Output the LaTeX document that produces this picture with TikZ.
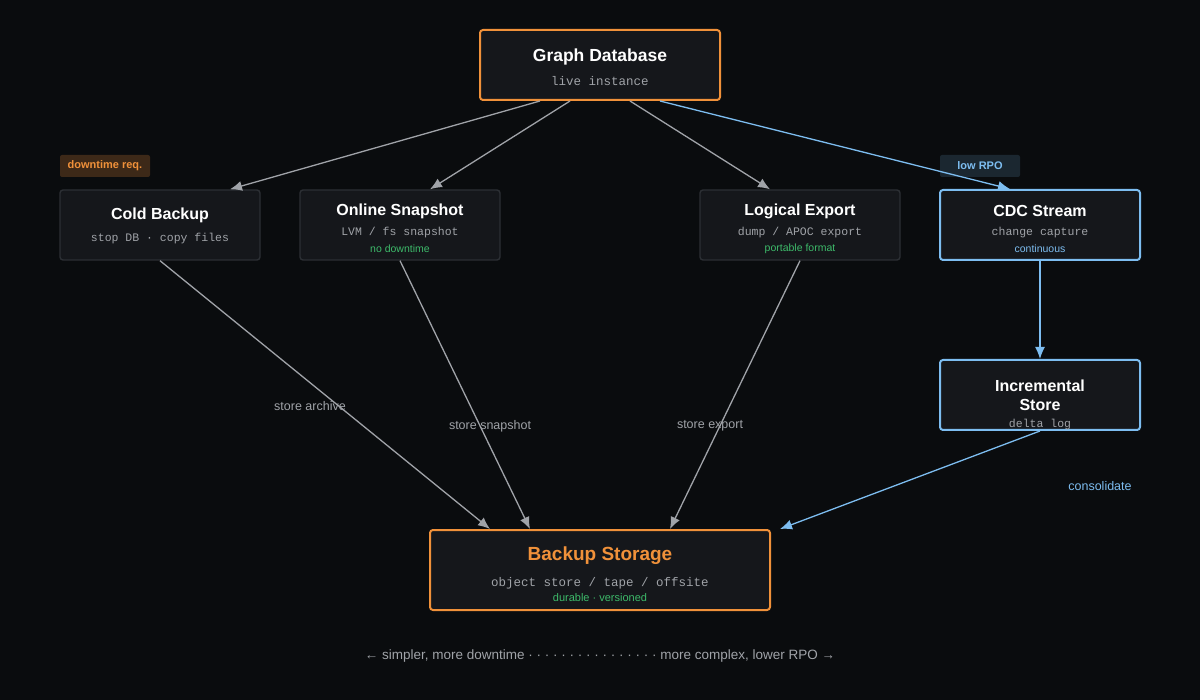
\documentclass[tikz,border=0pt]{standalone}
\usepackage{fontspec}
\setmainfont{Liberation Sans}
\setmonofont{Liberation Mono}
\usetikzlibrary{arrows.meta}
\definecolor{bg}{HTML}{0A0C0E}
\definecolor{boxfill}{HTML}{15171B}
\definecolor{boxline}{HTML}{2C2F34}
\definecolor{orng}{HTML}{F0913A}
\definecolor{lblue}{HTML}{7DBDF0}
\definecolor{grn}{HTML}{3DBA6A}
\definecolor{gry}{HTML}{A0A3A8}
\tikzset{
  box/.style={draw=boxline, line width=1.4pt, fill=boxfill, rounded corners=3pt,
    minimum width=200pt, minimum height=70pt, inner sep=0pt},
  hot/.style={box, line width=2pt},
  ttl/.style={text=white, font=\fontsize{16}{19}\selectfont\bfseries},
  sub/.style={text=gry, font=\fontsize{11.5}{13}\selectfont\ttfamily},
  note/.style={text=grn, font=\fontsize{10.5}{12}\selectfont},
  tag/.style={rounded corners=2pt, minimum height=22pt, inner sep=0pt,
    font=\fontsize{11}{13}\selectfont\bfseries},
  link/.style={draw=gry, line width=1.3pt, -{Latex[length=12pt,width=10pt]}},
  blink/.style={link, draw=lblue},
  lbl/.style={text=gry, font=\fontsize{12.5}{14}\selectfont}
}
\begin{document}
\begin{tikzpicture}[x=1pt,y=-1pt]
  \fill[bg] (0,0) rectangle (1200,700);
  \useasboundingbox (0,0) rectangle (1200,700);
  % nodes
  \node[hot, draw=orng, minimum width=240pt] (gdb) at (600,65) {};
  \node[ttl, font=\fontsize{17.5}{20}\selectfont\bfseries] at (600,57) {Graph Database};
  \node[sub, font=\fontsize{12.5}{14}\selectfont\ttfamily] at (600,81) {live instance};
  \node[box] (cold) at (160,225) {};
  \node[ttl] at (160,215) {Cold Backup};
  \node[sub] at (160,239) {stop DB · copy files};
  \node[box] (snap) at (400,225) {};
  \node[ttl] at (400,211) {Online Snapshot};
  \node[sub] at (400,233) {LVM / fs snapshot};
  \node[note] at (400,249) {no downtime};
  \node[box] (expo) at (800,225) {};
  \node[ttl] at (800,211) {Logical Export};
  \node[sub] at (800,233) {dump / APOC export};
  \node[note] at (800,249) {portable format};
  \node[hot, draw=lblue] (cdc) at (1040,225) {};
  \node[ttl] at (1040,211) {CDC Stream};
  \node[sub] at (1040,233) {change capture};
  \node[note, text=lblue] at (1040,249) {continuous};
  \node[hot, draw=lblue] (incr) at (1040,395) {};
  \node[ttl, align=center] at (1040,395) {Incremental\\Store};
  \node[sub] at (1040,425) {delta log};
  \node[hot, draw=orng, minimum width=340pt, minimum height=80pt] (store) at (600,570) {};
  \node[ttl, text=orng, font=\fontsize{19}{22}\selectfont\bfseries] at (600,556) {Backup Storage};
  \node[sub, font=\fontsize{12.5}{14}\selectfont\ttfamily] at (600,583) {object store / tape / offsite};
  \node[note, font=\fontsize{11}{13}\selectfont] at (600,598) {durable · versioned};
  % tags
  \node[tag, fill=orng!22!bg, text=orng, minimum width=90pt] (downtag) at (105,166) {downtime req.};
  \node[tag, fill=lblue!15!bg, text=lblue, minimum width=80pt] (rpotag) at (980,166) {low RPO};
  % connectors
  \draw[link] ([xshift=-60pt]gdb.south) -- ([xshift=70pt]cold.north);
  \draw[link] ([xshift=-30pt]gdb.south) -- ([xshift=30pt]snap.north);
  \draw[link] ([xshift=30pt]gdb.south) -- ([xshift=-30pt]expo.north);
  \draw[blink] ([xshift=60pt]gdb.south) -- ([xshift=-30pt]cdc.north);
  \draw[link] (cold.south) -- ([xshift=-110pt]store.north);
  \draw[link] (snap.south) -- ([xshift=-70pt]store.north);
  \draw[link] (expo.south) -- ([xshift=70pt]store.north);
  \draw[blink] (cdc.south) -- (incr.north);
  \draw[blink] (incr.south) -- ([xshift=180pt]store.north);
  % labels
  \node[lbl] at (310,406) {store archive};
  \node[lbl] at (490,426) {store snapshot};
  \node[lbl] at (710,426) {store export};
  \node[lbl, text=lblue] at (1100,486) {consolidate};
  \node[lbl, font=\fontsize{13.5}{15}\selectfont] at (600,656) {← simpler, more downtime · · · · · · · · · · · · · · · · more complex, lower RPO →};
\end{tikzpicture}
\end{document}
